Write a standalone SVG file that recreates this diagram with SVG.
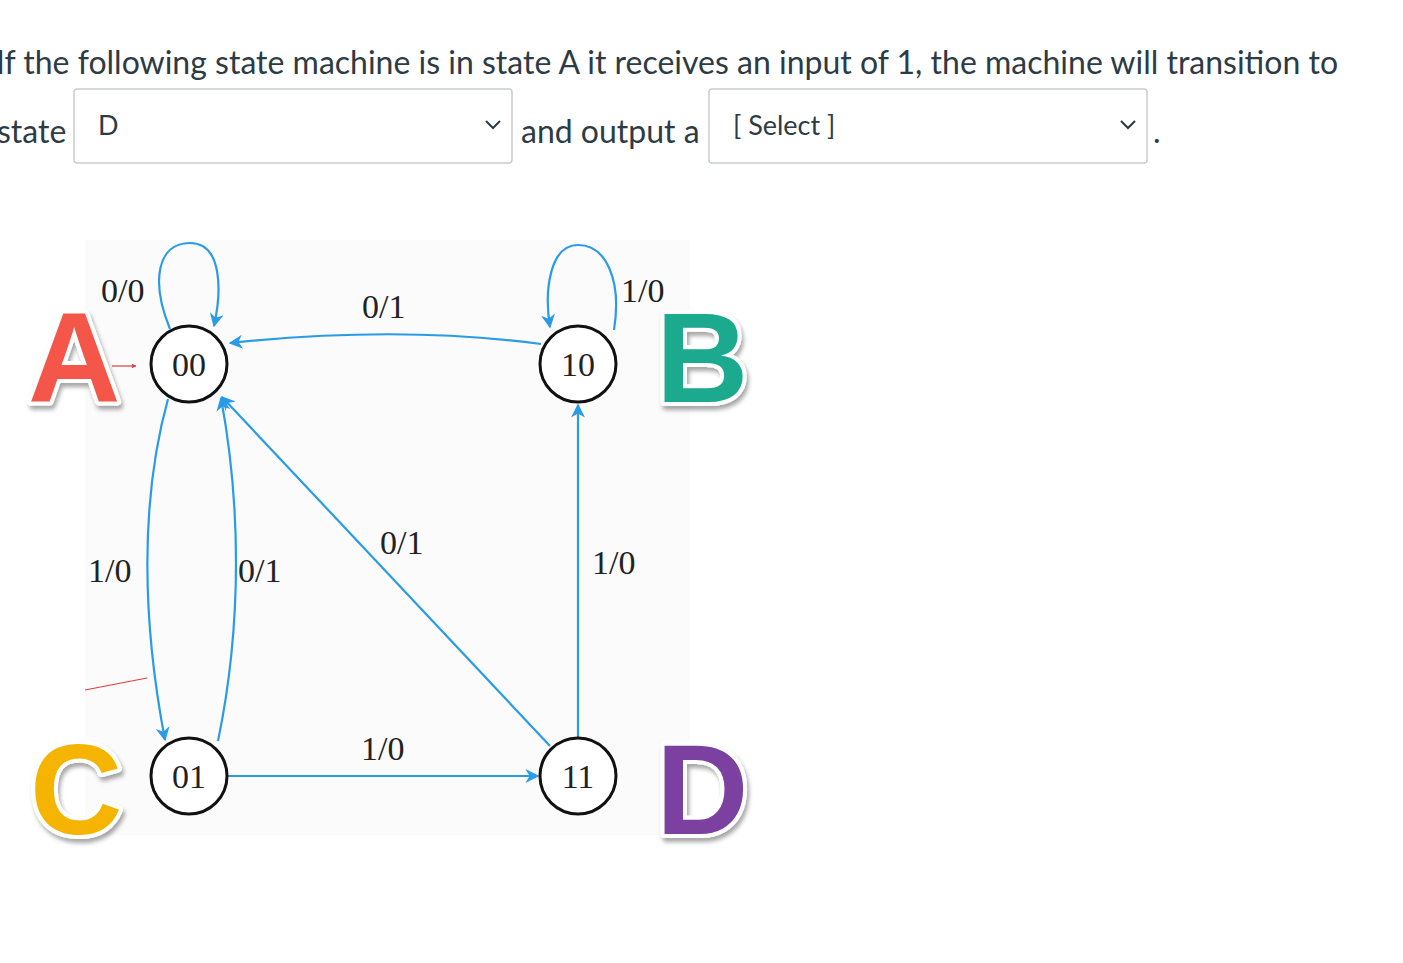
<svg xmlns="http://www.w3.org/2000/svg" width="1403" height="963" viewBox="0 0 1403 963">
<style>
.q{font-family:Lato,"Liberation Sans",sans-serif;font-size:32px;fill:#2d3b45}
.box{fill:#fff;stroke:#c7cdd1;stroke-width:1.5}
.lbl{font-family:"Liberation Serif",serif;font-size:34px;fill:#222}
.node circle{fill:#fff;stroke:#111;stroke-width:3}
.node text{font-family:"Liberation Serif",serif;font-size:34px;fill:#222;text-anchor:middle}
.e{fill:none;stroke:#2a9be6;stroke-width:2.2;marker-end:url(#ah)}
.big{font-family:"Liberation Sans",Arial,sans-serif;font-weight:bold;font-size:128px;stroke:#fff;stroke-width:8;paint-order:stroke;stroke-linejoin:round;filter:url(#sh)}
</style>
<defs>
<marker id="ah" viewBox="0 0 10 10" refX="9" refY="5" markerWidth="18" markerHeight="14" orient="auto" markerUnits="userSpaceOnUse"><path d="M0,0 L10,5 L0,10 L3,5z" fill="#2a9be6"/></marker>
<marker id="rh" viewBox="0 0 10 10" refX="9" refY="5" markerWidth="4" markerHeight="4" orient="auto"><path d="M0,0 L10,5 L0,10z" fill="#e0403a"/></marker>
<filter id="sh" x="-20%" y="-20%" width="150%" height="150%"><feDropShadow dx="2" dy="4" stdDeviation="2" flood-color="#000" flood-opacity="0.35"/></filter>
</defs>
<rect width="1403" height="963" fill="#fff"/>
<text class="q" x="-4" y="74">If the following state machine is in state A it receives an input of 1, the machine will transition to</text>
<text class="q" x="-3" y="143">state</text>
<rect class="box" x="74" y="89" width="438" height="74" rx="3"/>
<text class="q" x="98" y="135" style="font-size:27px">D</text>
<path d="M486,121 l7,7 l7,-7" fill="none" stroke="#2d3b45" stroke-width="2"/>
<text class="q" x="521" y="143">and output a</text>
<rect class="box" x="709" y="89" width="438" height="74" rx="3"/>
<text class="q" x="733" y="135" style="font-size:27px">[ Select ]</text>
<path d="M1121,121 l7,7 l7,-7" fill="none" stroke="#2d3b45" stroke-width="2"/>
<text class="q" x="1153" y="143">.</text>
<rect x="85" y="240" width="605" height="595" fill="#fbfbfb"/>
<g id="connectors">
<path class="e" d="M170,329 C150,280 158,243 190,243 C222,243 222,290 214,326"/>
<path class="e" d="M614,330 C622,280 606,245 578,245 C550,245 544,290 550,327"/>
<path class="e" d="M541,344 Q400,325 230,343"/>
<path class="e" d="M168,399 C140,500 142,620 165,740"/>
<path class="e" d="M218,741 C243,620 240,500 221,398"/>
<path class="e" d="M550,746 L222,397"/>
<path class="e" d="M228,776 L538,776"/>
<path class="e" d="M578,737 L578,405"/>
<path d="M112,366 L136,366" stroke="#e0403a" stroke-width="1.2" marker-end="url(#rh)"/>
<path d="M85,690 L147,678" stroke="#e0403a" stroke-width="1.2"/>
</g>
<g id="labels">
<text class="lbl" x="101" y="302">0/0</text>
<text class="lbl" x="362" y="318">0/1</text>
<text class="lbl" x="621" y="302">1/0</text>
<text class="lbl" x="88" y="582">1/0</text>
<text class="lbl" x="238" y="582">0/1</text>
<text class="lbl" x="380" y="554">0/1</text>
<text class="lbl" x="592" y="574">1/0</text>
<text class="lbl" x="361" y="760">1/0</text>
</g>
<g id="n00" class="node"><circle cx="189" cy="364" r="38"/><text x="189" y="376">00</text></g>
<g id="n10" class="node"><circle cx="578" cy="364" r="38"/><text x="578" y="376">10</text></g>
<g id="n01" class="node"><circle cx="189" cy="776" r="38"/><text x="189" y="788">01</text></g>
<g id="n11" class="node"><circle cx="578" cy="776" r="38"/><text x="578" y="788">11</text></g>
<g id="A"><text class="big" x="28" y="402" fill="#f4574a">A</text></g>
<g id="B"><text class="big" x="656" y="402" fill="#1aaa8f">B</text></g>
<g id="C"><text class="big" x="30" y="834" fill="#f5b400">C</text></g>
<g id="D"><text class="big" x="656" y="834" fill="#7b3fa0">D</text></g>
</svg>
